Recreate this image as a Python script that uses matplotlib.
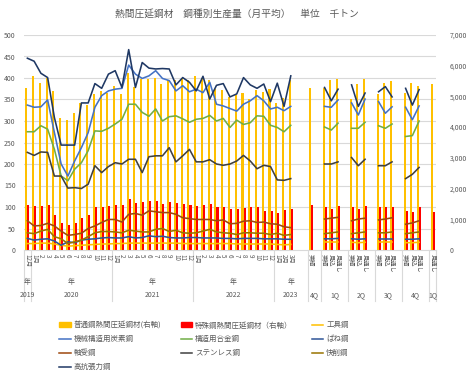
import numpy as np
import matplotlib
matplotlib.use("Agg")
import matplotlib.pyplot as plt
from matplotlib.lines import Line2D
from matplotlib.patches import Patch

plt.rcParams['font.family'] = ['Noto Sans CJK JP', 'DejaVu Sans']

# ---- categories -------------------------------------------------------
month_labels = (["12月"]
                + (["1月"] + [str(m) for m in range(2, 13)]) * 3
                + ["1月", "2月", "3月", "", ""])
quarter_labels = (["実績", ""]
                  + ["実績", "見込", "見通し", ""] * 4
                  + ["見通し"])
cat_labels = month_labels + quarter_labels

group_names = ["2019", "2020", "2021", "2022", "2023", "4Q", "1Q", "2Q", "3Q", "4Q", "1Q"]
group_sizes = [1, 12, 12, 12, 5, 2, 4, 4, 4, 4, 1]
group_is_year = [True, True, True, True, True, False, False, False, False, False, False]

# ---- monthly data (2019/12 - 2023/3), 千トン -------------------------------
ordinary_m = [5290, 5650, 5430, 5600, 5180, 4310, 4230, 4450, 4800, 4720,
              5070, 5180, 5120, 5350, 5070, 5770, 5320, 5570, 5560, 5600,
              5400, 5550, 5550, 5600, 5550, 5650, 5600, 5550, 5250, 5200,
              4980, 5050, 5120, 4930, 5200, 5150, 5250, 4800, 4950, 5550]
special_m = [1456, 1430, 1430, 1456, 1134, 868, 798, 868, 1050, 1148,
             1386, 1386, 1428, 1456, 1456, 1652, 1526, 1568, 1582, 1596,
             1512, 1568, 1540, 1484, 1456, 1428, 1456, 1498, 1386, 1386,
             1330, 1350, 1370, 1386, 1386, 1274, 1274, 1220, 1300, 1330]

tool_m = [15, 15, 16, 16, 14, 11, 9, 10, 11, 12, 13, 14, 14, 15, 15, 16, 16, 16, 16, 16,
          16, 16, 16, 15, 15, 15, 15, 15, 15, 15, 15, 14, 14, 14, 14, 14, 14, 13, 12, 13]
carbon_m = [337, 332, 333, 349, 273, 200, 172, 207, 238, 273, 332, 359, 370, 374, 376, 430, 409, 399, 405, 417,
            399, 394, 370, 382, 368, 374, 366, 390, 339, 335, 329, 323, 339, 347, 359, 347, 328, 332, 324, 334]
alloy_m = [275, 275, 289, 281, 234, 172, 161, 188, 203, 231, 277, 276, 283, 293, 304, 339, 339, 320, 311, 328,
           300, 310, 312, 305, 297, 304, 306, 313, 300, 306, 285, 302, 292, 296, 312, 311, 290, 285, 275, 290]
spring_m = [27, 23, 25, 26, 21, 11, 19, 17, 23, 25, 26, 28, 29, 28, 28, 31, 28, 29, 33, 31,
            32, 29, 28, 28, 29, 29, 28, 28, 28, 27, 27, 26, 27, 27, 27, 26, 26, 26, 25, 25]
bearing_m = [68, 56, 57, 62, 56, 44, 34, 36, 39, 50, 56, 64, 71, 71, 65, 83, 85, 81, 91, 89,
             87, 87, 83, 75, 73, 71, 71, 71, 68, 70, 61, 62, 67, 68, 64, 65, 61, 60, 54, 52]
stainless_m = [227, 220, 228, 227, 172, 172, 144, 145, 143, 153, 196, 180, 194, 203, 200, 211, 211, 180, 217, 219,
               219, 238, 205, 219, 234, 205, 205, 210, 200, 197, 200, 207, 220, 207, 189, 197, 194, 163, 162, 166]
freecut_m = [40, 38, 44, 48, 31, 26, 15, 19, 23, 31, 40, 43, 43, 42, 40, 46, 44, 42, 42, 48,
             50, 43, 46, 40, 39, 40, 44, 48, 42, 40, 39, 36, 40, 40, 39, 39, 36, 39, 34, 36]
hightens_m = [446, 439, 411, 401, 308, 244, 244, 244, 342, 342, 387, 376, 409, 417, 378, 466, 378, 436, 423, 421,
              422, 421, 384, 401, 390, 370, 404, 351, 383, 387, 356, 363, 401, 384, 376, 386, 345, 388, 334, 405]

# ---- quarterly data: 4Q実績, 1Q/2Q/3Q/4Q (実績,見込,見通し), 1Q見通し ---------
ordinary_q = [5290, 5290, 5520, 5570, 4930, 5400, 5570, 5080, 5430, 5490, 5110, 5430, 5350, 5400]
special_q = [1456, 1386, 1344, 1428, 1386, 1330, 1428, 1386, 1386, 1386, 1274, 1246, 1414, 1246]

# lines: 1Q..4Q, 3 points each
tool_q = [18, 18, 18, 18, 17, 18, 18, 18, 18, 17, 17, 18]
carbon_q = [334, 332, 349, 342, 314, 351, 345, 318, 333, 332, 303, 335]
alloy_q = [286, 279, 295, 283, 283, 297, 289, 283, 293, 264, 266, 300]
spring_q = [26, 26, 27, 26, 25, 26, 26, 26, 26, 25, 25, 26]
bearing_q = [72, 74, 76, 68, 72, 74, 70, 72, 75, 60, 63, 68]
stainless_q = [200, 200, 205, 215, 196, 211, 196, 196, 205, 166, 176, 192]
freecut_q = [38, 40, 42, 38, 40, 42, 40, 40, 42, 38, 40, 42]
hightens_q = [378, 347, 374, 384, 334, 365, 368, 380, 356, 376, 337, 373]

line_series = [
    ("工具鋼", tool_m, tool_q, "#FFC000"),
    ("機械構造用炭素鋼", carbon_m, carbon_q, "#4472C4"),
    ("構造用合金鋼", alloy_m, alloy_q, "#70AD47"),
    ("ばね鋼", spring_m, spring_q, "#2F5597"),
    ("軸受鋼", bearing_m, bearing_q, "#9E480E"),
    ("ステンレス鋼", stainless_m, stainless_q, "#404040"),
    ("快削鋼", freecut_m, freecut_q, "#997300"),
    ("高抗張力鋼", hightens_m, hightens_q, "#1F3864"),
]

# ---- positions --------------------------------------------------------
n_cat = len(cat_labels)
x_month = np.arange(len(ordinary_m))
q_start = sum(group_sizes[:5])
q_bar_pos = [q_start]
q_line_pos = []
pos = q_start + 2
for g in range(4):
    q_bar_pos += [pos, pos + 1, pos + 2]
    q_line_pos.append([pos, pos + 1, pos + 2])
    pos += 4
q_bar_pos.append(pos)

fig = plt.figure(figsize=(4.74, 3.77), dpi=100)
ax = fig.add_axes([24 / 474, 1 - 250 / 377, 412 / 474, 215 / 377])
ax2 = ax.twinx()
ax.set_zorder(ax2.get_zorder() + 1)
ax.patch.set_visible(False)

gray = "#595959"
grid_c = "#D9D9D9"

# bars on right axis
bw = 0.3
x_all_bar = np.concatenate([x_month, q_bar_pos])
ord_all = list(ordinary_m) + ordinary_q
spe_all = list(special_m) + special_q
ax2.bar(x_all_bar - bw / 2, ord_all, width=bw, color="#FFC000", zorder=2)
ax2.bar(x_all_bar + bw / 2, spe_all, width=bw, color="#FF0000", zorder=2)
for v in range(700, 7001, 700):
    ax2.axhline(v, color=grid_c, lw=0.8, zorder=0)

# lines on left axis
lw = 1.15
for name, m, q, c in line_series:
    ax.plot(x_month, m, color=c, lw=lw)
    for k, p in enumerate(q_line_pos):
        ax.plot(p, q[3 * k:3 * k + 3], color=c, lw=lw)

ax.set_xlim(-0.5, n_cat - 0.5)
ax.set_ylim(0, 500)
ax.set_yticks(range(0, 501, 50))
ax2.set_ylim(0, 7000)
ax2.set_yticks(range(0, 7001, 1000))
ax2.set_yticklabels([f"{v:,}" for v in range(0, 7001, 1000)])
for a in (ax, ax2):
    for s in a.spines.values():
        s.set_visible(False)
    a.tick_params(length=0, labelsize=5, colors=gray)
ax.tick_params(axis="y", pad=6)
ax2.tick_params(axis="y", pad=10)
ax.spines["bottom"].set_visible(True)
ax.spines["bottom"].set_color(grid_c)
ax.set_xticks([])

# multi-level category labels
tr = ax.get_xaxis_transform()
for i, lab in enumerate(cat_labels):
    if lab:
        ax.text(i, -0.02, lab, transform=tr, rotation=270, ha="center", va="top",
                fontsize=4.5, color=gray)
start = 0
bounds = [-0.5]
for name, size, is_year in zip(group_names, group_sizes, group_is_year):
    c = start + (size - 1) / 2
    if is_year:
        ax.text(c, -0.15, "年", transform=tr, ha="center", va="center", fontsize=5, color=gray)
    ax.text(c, -0.21, name, transform=tr, ha="center", va="center", fontsize=5, color=gray)
    start += size
    bounds.append(start - 0.5)
for b in bounds:
    ax.add_line(Line2D([b, b], [0, -0.235], transform=tr, color=grid_c, lw=0.8, clip_on=False))

fig.text(0.5, 1 - 14 / 377, "熱間圧延鋼材　鋼種別生産量（月平均）　単位　千トン",
         ha="center", va="center", fontsize=7, color=gray)

handles = [Patch(color="#FFC000"), Patch(color="#FF0000")]
labels = ["普通鋼熱間圧延鋼材(右軸)", "特殊鋼熱間圧延鋼材（右軸）"]
for name, m, q, c in line_series:
    handles.append(Line2D([], [], color=c, lw=1.1))
    labels.append(name)
order = [0, 3, 6, 9, 1, 4, 7, 2, 5, 8]
leg = fig.legend([handles[k] for k in order], [labels[k] for k in order],
                 ncol=3, loc="upper left", bbox_to_anchor=(54 / 474, 1 - 316 / 377),
                 frameon=False, fontsize=5.4, labelcolor=gray, handlelength=1.5,
                 handleheight=0.7, columnspacing=2.6, labelspacing=0.8, handletextpad=0.4,
                 borderpad=0.2)

fig.savefig("out.png", dpi=100)
